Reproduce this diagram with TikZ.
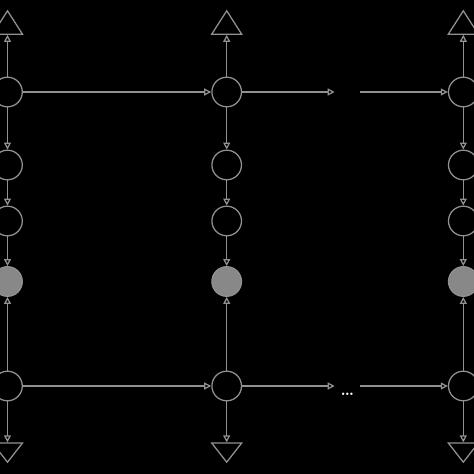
\documentclass[tikz,border=0pt]{standalone}
\usetikzlibrary{arrows.meta,shapes.geometric}
\definecolor{wire}{RGB}{145,145,145}
\definecolor{hidden}{RGB}{136,136,136}
\begin{document}
\begin{tikzpicture}[x=0.025cm, y=-0.025cm, >={Triangle[length=5pt,width=5pt]}]
    \tikzstyle{cell_node}       = [shape = circle, draw = wire, line width=0.9pt, minimum size=0.74cm, inner sep=0pt]
    \tikzstyle{cell_node__fill} = [cell_node, fill = hidden]
    \tikzstyle{out_up}          = [shape = isosceles triangle, isosceles triangle stretches, shape border rotate=90,
                                   draw = wire, line width=0.9pt, minimum width=0.75cm, minimum height=0.585cm, inner sep=0pt]
    \tikzstyle{out_dn}          = [out_up, shape border rotate=270, minimum height=0.48cm]
    \tikzstyle{gap_node}        = [minimum width=0.625cm, text height=0.45cm, text depth=0pt, inner sep=0pt,
                                   text=white, font=\large\bfseries]

    \fill[black] (0,0) rectangle (474,474);
    \useasboundingbox (0,0) rectangle (474,474);

    % first column
    \node[out_up]          at (7.5,    26.0) (c1_up) {};
    \node[cell_node]       at (7.5,    92.0) (c1_1)  {};
    \node[cell_node]       at (7.5,   165.0) (c1_2)  {};
    \node[cell_node]       at (7.5,   221.0) (c1_3)  {};
    \node[cell_node__fill] at (7.5,   281.5) (c1_4)  {};
    \node[cell_node]       at (7.5,   386.0) (c1_5)  {};
    \node[out_dn]          at (7.5,   450.3) (c1_dn) {};

    % second column
    \node[out_up]          at (226.7,  26.0) (c2_up) {};
    \node[cell_node]       at (226.7,  92.0) (c2_1)  {};
    \node[cell_node]       at (226.7, 165.0) (c2_2)  {};
    \node[cell_node]       at (226.7, 221.0) (c2_3)  {};
    \node[cell_node__fill] at (226.7, 281.5) (c2_4)  {};
    \node[cell_node]       at (226.7, 386.0) (c2_5)  {};
    \node[out_dn]          at (226.7, 450.3) (c2_dn) {};

    % gaps
    \node[gap_node]        at (347.5,  92.0) (gap1)  {};
    \node[gap_node]        at (347.5, 386.0) (gap5)  {\ldots};

    % last column
    \node[out_up]          at (463.3,  26.0) (c3_up) {};
    \node[cell_node]       at (463.3,  92.0) (c3_1)  {};
    \node[cell_node]       at (463.3, 165.0) (c3_2)  {};
    \node[cell_node]       at (463.3, 221.0) (c3_3)  {};
    \node[cell_node__fill] at (463.3, 281.5) (c3_4)  {};
    \node[cell_node]       at (463.3, 386.0) (c3_5)  {};
    \node[out_dn]          at (463.3, 450.3) (c3_dn) {};

    \draw[->, draw = wire, line width=0.9pt]
      (c1_1) edge (c1_up)
      (c1_1) edge (c1_2)
      (c1_2) edge (c1_3)
      (c1_3) edge (c1_4)
      (c1_5) edge (c1_4)
      (c1_5) edge (c1_dn)
      (c2_1) edge (c2_up)
      (c2_1) edge (c2_2)
      (c2_2) edge (c2_3)
      (c2_3) edge (c2_4)
      (c2_5) edge (c2_4)
      (c2_5) edge (c2_dn)
      (c3_1) edge (c3_up)
      (c3_1) edge (c3_2)
      (c3_2) edge (c3_3)
      (c3_3) edge (c3_4)
      (c3_5) edge (c3_4)
      (c3_5) edge (c3_dn)
      (c1_1) edge (c2_1)
      (c1_5) edge (c2_5)
      (c2_1) edge (gap1)
      (c2_5) edge (gap5)
      (gap1) edge (c3_1)
      (gap5) edge (c3_5)
    ;
\end{tikzpicture}
\end{document}
